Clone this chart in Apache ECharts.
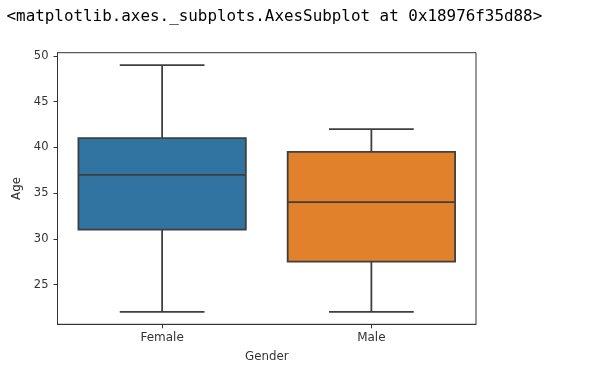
<!DOCTYPE html>
<html>
<head>
<meta charset="utf-8">
<script src="https://cdn.jsdelivr.net/npm/echarts@6/dist/echarts.min.js"></script>
<style>html,body{margin:0;padding:0;background:#fff;}#c{width:591px;height:379px;}</style>
</head>
<body>
<div id="c"></div>
<script>
// Data
var categories = ['Female', 'Male'];
var minVals = [22, 22];
var q1Vals = [31, 27.5];
var medianVals = [37, 34];
var q3Vals = [41, 39.5];
var maxVals = [49, 42];
var boxColors = ['#3274a1', '#e1812c'];
var yTicks = [25, 30, 35, 40, 45, 50];
var headerText = '<matplotlib.axes._subplots.AxesSubplot at 0x18976f35d88>';

var seriesData = categories.map(function (c, i) {
  return [i, minVals[i], q1Vals[i], medianVals[i], q3Vals[i], maxVals[i]];
});

var lineColor = '#3f3f3f';
var chart = echarts.init(document.getElementById('c'), null, {renderer: 'canvas'});
chart.setOption({
  animation: false,
  backgroundColor: '#fff',
  graphic: [{
    type: 'text', left: 6.5, top: 8.5,
    style: {text: headerText, font: '15.9px "DejaVu Sans Mono"', fill: '#000'}
  }],
  grid: {left: 57.5, right: 115, top: 52.7, bottom: 54.7, show: true, borderColor: '#333', borderWidth: 1},
  xAxis: {
    type: 'category', data: categories,
    name: 'Gender', nameLocation: 'middle', nameGap: 26.5,
    nameTextStyle: {fontFamily: 'DejaVu Sans', fontSize: 11.8, color: '#333'},
    axisLine: {show: true, lineStyle: {color: '#333', width: 1}},
    axisTick: {show: true, alignWithLabel: true, length: 4, lineStyle: {color: '#333'}},
    axisLabel: {fontFamily: 'DejaVu Sans', fontSize: 12, color: '#333', margin: 8},
    splitLine: {show: false}
  },
  yAxis: {
    type: 'value', min: 20.65, max: 50.35,
    name: 'Age', nameLocation: 'middle', nameGap: 31, nameRotate: 90,
    nameTextStyle: {fontFamily: 'DejaVu Sans', fontSize: 11.8, color: '#333'},
    axisLine: {show: true, lineStyle: {color: '#333', width: 1}},
    axisTick: {show: true, length: 4, customValues: yTicks, lineStyle: {color: '#333'}},
    axisLabel: {fontFamily: 'DejaVu Sans', fontSize: 11.5, color: '#333', margin: 9, customValues: yTicks},
    splitLine: {show: false}
  },
  series: [{
    type: 'custom',
    data: seriesData,
    encode: {x: 0, y: [1, 2, 3, 4, 5]},
    renderItem: function (params, api) {
      var idx = api.value(0);
      var band = api.size([1, 0])[0];
      var boxW = band * 0.8;
      var capW = band * 0.405;
      var pMin = api.coord([idx, api.value(1)]);
      var pQ1 = api.coord([idx, api.value(2)]);
      var pMed = api.coord([idx, api.value(3)]);
      var pQ3 = api.coord([idx, api.value(4)]);
      var pMax = api.coord([idx, api.value(5)]);
      var cx = pMed[0];
      var ls = {stroke: lineColor, lineWidth: 1.8};
      return {
        type: 'group',
        children: [
          {type: 'line', shape: {x1: cx, y1: pQ1[1], x2: cx, y2: pMin[1]}, style: ls},
          {type: 'line', shape: {x1: cx, y1: pQ3[1], x2: cx, y2: pMax[1]}, style: ls},
          {type: 'line', shape: {x1: cx - capW / 2, y1: pMin[1], x2: cx + capW / 2, y2: pMin[1]}, style: ls},
          {type: 'line', shape: {x1: cx - capW / 2, y1: pMax[1], x2: cx + capW / 2, y2: pMax[1]}, style: ls},
          {type: 'rect', shape: {x: cx - boxW / 2, y: pQ3[1], width: boxW, height: pQ1[1] - pQ3[1]},
           style: {fill: boxColors[params.dataIndex], stroke: lineColor, lineWidth: 1.8}},
          {type: 'line', shape: {x1: cx - boxW / 2, y1: pMed[1], x2: cx + boxW / 2, y2: pMed[1]}, style: ls}
        ]
      };
    }
  }]
});
</script>
</body>
</html>
